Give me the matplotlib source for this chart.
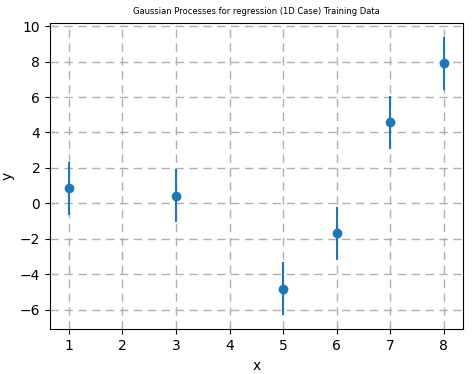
import matplotlib
matplotlib.use("Agg")
import matplotlib.pyplot as plt

x_train = [1, 3, 5, 6, 7, 8]
y_train = [0.84, 0.42, -4.82, -1.68, 4.58, 7.9]
y_err = [1.5, 1.5, 1.5, 1.5, 1.5, 1.5]

fig = plt.figure(figsize=(4.74, 3.74), dpi=100)
ax = fig.add_axes([0.1055, 0.1195, 0.8705, 0.8195])
ax.errorbar(x_train, y_train, yerr=y_err, fmt='o', color='#1f77b4')
ax.grid(True, linestyle=(0, (6, 4)), color='#b0b0b0', linewidth=1)
ax.set_xlabel('x')
ax.set_ylabel('y')
ax.set_title('Gaussian Processes for regression (1D Case) Training Data', fontsize=6)
fig.savefig('out.png', dpi=100)
